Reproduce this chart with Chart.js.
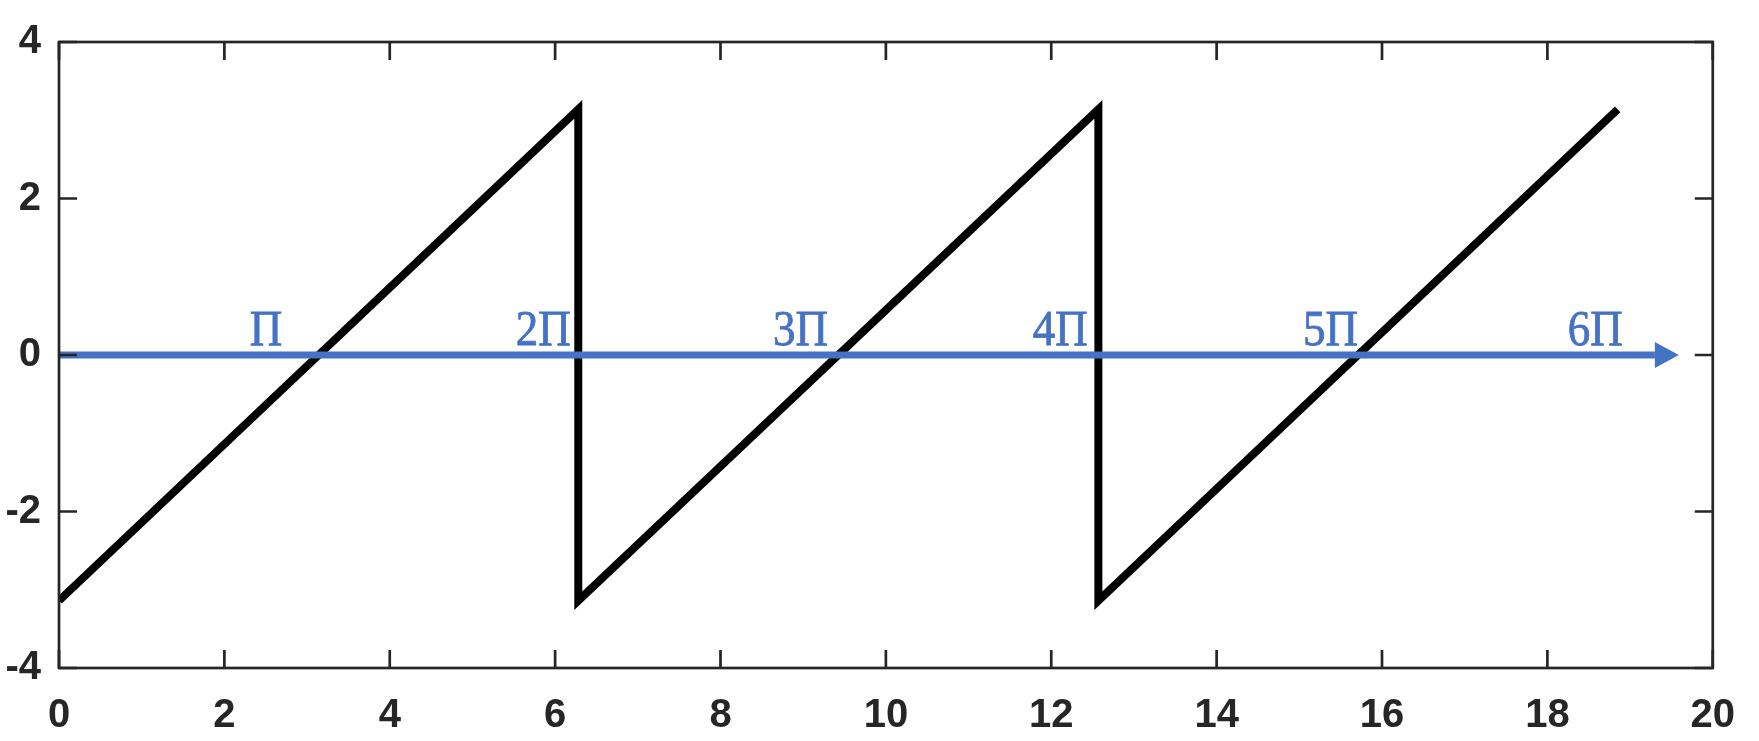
<!DOCTYPE html>
<html>
<head>
<meta charset="utf-8">
<script src="https://cdn.jsdelivr.net/npm/chart.js@4"></script>
<style>
html,body{margin:0;padding:0;background:#fff;}
#c{display:block;}
</style>
</head>
<body>
<canvas id="c" width="1759" height="741" style="width:1759px;height:741px"></canvas>
<script>
// ---- data ----
const xTickValues = [0, 2, 4, 6, 8, 10, 12, 14, 16, 18, 20];
const yTickValues = [-4, -2, 0, 2, 4];
const sawX = [0, 6.28, 6.28, 12.57, 12.57, 18.85];
const sawY = [-3.14, 3.14, -3.14, 3.14, -3.14, 3.14];
const axisArrowX = [0, 19.3];
const axisArrowY = [0, 0];
const arrowTipX = 19.59;
const piLabels = ['Π', '2Π', '3Π', '4Π', '5Π', '6Π'];
const piLabelRightX = [2.70, 6.19, 9.30, 12.44, 15.71, 18.91];
const piLabelBaseY = 0.13;

const sawData = sawX.map((x, i) => ({x, y: sawY[i]}));
const arrowData = axisArrowX.map((x, i) => ({x, y: axisArrowY[i]}));

const AXIS_COLOR = '#262626';
const BLUE = '#4472C4';

const decor = {
  id: 'decor',
  afterDatasetsDraw(chart) {
    const {ctx, chartArea: a, scales: {x, y}} = chart;
    ctx.save();
    // arrow head
    const baseX = x.getPixelForValue(axisArrowX[axisArrowX.length - 1]);
    const tipX = x.getPixelForValue(arrowTipX);
    const y0 = y.getPixelForValue(0);
    ctx.fillStyle = BLUE;
    ctx.beginPath();
    ctx.moveTo(baseX, y0 - 13);
    ctx.lineTo(tipX, y0);
    ctx.lineTo(baseX, y0 + 13);
    ctx.closePath();
    ctx.fill();
    // labels
    ctx.font = '50px "Liberation Serif"';
    ctx.textAlign = 'right';
    ctx.textBaseline = 'alphabetic';
    ctx.strokeStyle = BLUE;
    ctx.lineWidth = 0.8;
    piLabels.forEach((t, i) => {
      const px = x.getPixelForValue(piLabelRightX[i]);
      const py = y.getPixelForValue(piLabelBaseY);
      ctx.save();
      ctx.translate(px, py);
      ctx.scale(0.9, 1);
      ctx.fillText(t, 0, 0);
      ctx.strokeText(t, 0, 0);
      ctx.restore();
    });
    // frame
    ctx.strokeStyle = AXIS_COLOR;
    ctx.lineWidth = 2.7;
    ctx.strokeRect(a.left, a.top, a.right - a.left, a.bottom - a.top);
    // inward ticks
    const L = 18;
    ctx.beginPath();
    xTickValues.forEach(v => {
      const px = x.getPixelForValue(v);
      ctx.moveTo(px, a.bottom); ctx.lineTo(px, a.bottom - L);
      ctx.moveTo(px, a.top); ctx.lineTo(px, a.top + L);
    });
    yTickValues.forEach(v => {
      const py = y.getPixelForValue(v);
      ctx.moveTo(a.left, py); ctx.lineTo(a.left + L, py);
      ctx.moveTo(a.right, py); ctx.lineTo(a.right - L, py);
    });
    ctx.stroke();
    ctx.restore();
  }
};

new Chart(document.getElementById('c'), {
  type: 'line',
  data: {
    datasets: [
      {
        data: sawData,
        borderColor: '#000000',
        borderWidth: 8,
        pointRadius: 0,
        tension: 0,
        fill: false,
        borderJoinStyle: 'miter',
        order: 2
      },
      {
        data: arrowData,
        borderColor: BLUE,
        borderWidth: 7,
        pointRadius: 0,
        tension: 0,
        fill: false,
        order: 1
      }
    ]
  },
  options: {
    responsive: false,
    devicePixelRatio: 1,
    animation: false,
    layout: {padding: {left: 0, top: 37, right: 27, bottom: 0}},
    plugins: {legend: {display: false}, tooltip: {enabled: false}},
    scales: {
      x: {
        type: 'linear',
        min: 0, max: 20,
        grid: {display: false, drawTicks: false, tickLength: 0},
        border: {display: false},
        afterBuildTicks(s) { s.ticks = xTickValues.map(v => ({value: v})); },
        afterFit(s) { s.height = 73; },
        ticks: {
          color: AXIS_COLOR,
          padding: 24,
          maxRotation: 0,
          autoSkip: false,
          font: {family: 'Liberation Sans', size: 40, weight: 'bold'}
        }
      },
      y: {
        type: 'linear',
        min: -4, max: 4,
        grid: {display: false, drawTicks: false, tickLength: 0},
        border: {display: false},
        afterBuildTicks(s) { s.ticks = yTickValues.map(v => ({value: v})); },
        afterFit(s) { s.width = 59; },
        ticks: {
          color: AXIS_COLOR,
          padding: 18,
          autoSkip: false,
          font: {family: 'Liberation Sans', size: 40, weight: 'bold'}
        }
      }
    }
  },
  plugins: [decor]
});
</script>
</body>
</html>
